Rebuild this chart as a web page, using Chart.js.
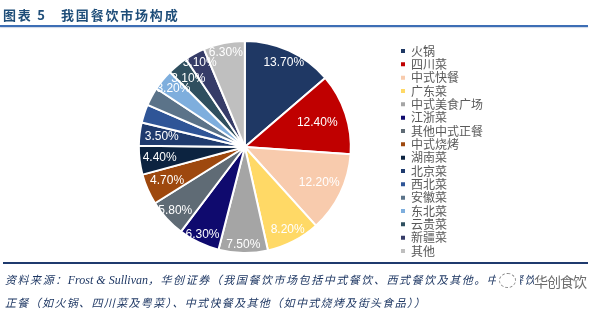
<!DOCTYPE html>
<html>
<head>
<meta charset="utf-8">
<script src="https://cdn.jsdelivr.net/npm/chart.js@4.4.1/dist/chart.umd.min.js"></script>
<style>
  html, body { margin: 0; padding: 0; background: #fff; }
  #wrap { position: relative; width: 603px; height: 310px; overflow: hidden; }
  #pieChart { position: absolute; left: 0; top: 0; }
  .title { position: absolute; left: 3px; top: 5px; font: bold 13px "Noto Sans CJK SC"; color: #1F4E79; letter-spacing: 1.8px; white-space: pre; }
  .rule-top { position: absolute; left: 0; top: 25px; width: 588px; height: 2px; background: #3D6EB5; box-shadow: 0 1px 1px #cfd8e6; }
  .rule-bot { position: absolute; left: 3px; top: 262px; width: 585px; height: 2px; background: #1F3A6E; }
  .foot { position: absolute; left: 5px; font: italic 11px "Noto Sans CJK SC"; color: #1F3864; letter-spacing: 1.35px; white-space: nowrap; }
  .foot .lat { font: italic 12px "Liberation Serif"; letter-spacing: 0; }
  .wm { position: absolute; left: 496px; top: 270px; width: 24px; height: 22px; background: #fff; }
  .wm i { position: absolute; left: 3px; top: 3px; width: 15px; height: 13px; border: 1px dashed #8a8a8a; border-radius: 50%; }
  .wm2 { position: absolute; left: 534px; top: 270px; width: 60px; height: 22px; background: #fff; font: 14px "Noto Sans CJK SC"; color: #6e6e6e; line-height: 22px; letter-spacing: -1px; }
</style>
</head>
<body>
<div id="wrap">
  <canvas id="pieChart" width="603" height="310"></canvas>
  <div class="title">图表 5   我国餐饮市场构成</div>
  <div class="rule-top"></div>
  <div class="rule-bot"></div>
  <div class="foot" style="top:271px; letter-spacing:1.55px">资料来源：<span class="lat">Frost &amp; Sullivan</span>，华创证券（我国餐饮市场包括中式餐饮、西式餐饮及其他。中式餐饮包括中式</div>
  <div class="foot" style="top:294px">正餐（如火锅、四川菜及粤菜）、中式快餐及其他（如中式烧烤及街头食品））</div>
  <div class="wm"><i></i></div>
  <div class="wm2">华创食饮</div>
</div>
<script>
// data
var categories = ["火锅", "四川菜", "中式快餐", "广东菜", "中式美食广场", "江浙菜", "其他中式正餐", "中式烧烤",
  "湖南菜", "北京菜", "西北菜", "安徽菜", "东北菜", "云贵菜", "新疆菜", "其他"];
var shares = [13.7, 12.4, 12.2, 8.2, 7.5, 6.3, 5.8, 4.7, 4.4, 3.5, 2.8, 2.8, 3.2, 3.1, 3.1, 6.3];
var showLabel = [true, true, true, true, true, true, true, true, true, true, false, false, true, true, true, true];

// styles
var colors = ["#1F3864", "#C00000", "#F8CBAD", "#FFD966", "#A5A5A5", "#0F0A6E", "#5F6B75", "#9E480E",
  "#0C2340", "#1F3B6E", "#2F5597", "#5B7389", "#7EAEDD", "#2F4F5F", "#363C68", "#BFBFBF"];
var labelPos = [0.88, 0.72, 0.78, 0.88, 0.92, 0.92, 0.89, 0.80, 0.81, 0.79, 0.8, 0.8, 0.87, 0.84, 0.90, 0.91];

// draws the % text inside each slice
var sliceLabels = {
  id: 'sliceLabels',
  afterDatasetsDraw: function (chart) {
    var ctx = chart.ctx;
    var meta = chart.getDatasetMeta(0);
    ctx.save();
    ctx.font = '12px "Liberation Sans", Arial';
    ctx.fillStyle = '#fff';
    ctx.textAlign = 'center';
    ctx.textBaseline = 'middle';
    meta.data.forEach(function (arc, i) {
      if (!showLabel[i]) return;
      var a = (arc.startAngle + arc.endAngle) / 2;
      var r = arc.outerRadius * labelPos[i];
      ctx.fillText(shares[i].toFixed(2) + '%', arc.x + Math.cos(a) * r, arc.y + Math.sin(a) * r);
    });
    ctx.restore();
  }
};

var ctxP = document.getElementById("pieChart").getContext('2d');
var myPieChart = new Chart(ctxP, {
  type: 'pie',
  data: {
    labels: categories,
    datasets: [{
      data: shares,
      backgroundColor: colors,
      borderColor: '#fff',
      borderWidth: 2
    }]
  },
  options: {
    responsive: false,
    animation: false,
    radius: 106,
    layout: { padding: { left: 90, right: 110, top: 30, bottom: 46 } },
    plugins: {
      tooltip: { enabled: false },
      legend: {
        position: 'right',
        align: 'center',
        title: { display: true, text: '', font: { size: 8, lineHeight: 1 }, padding: 0 },
        labels: {
          boxWidth: 4,
          boxHeight: 4,
          padding: 1.33,
          color: '#595959',
          font: { family: '"Noto Sans CJK SC"', size: 12 },
          generateLabels: function (chart) {
            var items = Chart.overrides.pie.plugins.legend.labels.generateLabels(chart);
            items.forEach(function (it) { it.lineWidth = 0; it.strokeStyle = it.fillStyle; });
            return items;
          }
        }
      }
    }
  },
  plugins: [sliceLabels]
});
</script>
</body>
</html>
